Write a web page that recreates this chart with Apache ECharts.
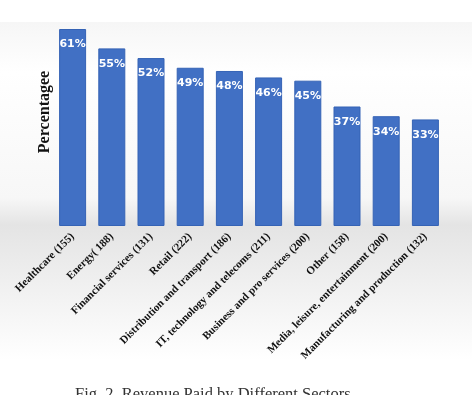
<!DOCTYPE html>
<html>
<head>
<meta charset="utf-8">
<script src="https://cdn.jsdelivr.net/npm/echarts@6/dist/echarts.min.js"></script>
<style>
  html, body { margin: 0; padding: 0; background: #fff; }
  #chart { width: 474px; height: 395px; }
</style>
</head>
<body>
<div id="chart"></div>
<script>
// sectors (sample size in brackets)
const sectors = [
  'Healthcare (155)', 'Energy( 188)', 'Financial services (131)', 'Retail (222)',
  'Distribution and transport (186)', 'IT, technology and telecoms (211)',
  'Business and pro services (200)', 'Other (158)',
  'Media, leisure, entertainment (200)', 'Manufacturing and production (132)'
]
const percentPaid = [61, 55, 52, 49, 48, 46, 45, 37, 34, 33]
const yTitle = 'Percentagee'
const caption = 'Fig. 2. Revenue Paid by Different Sectors'

const chart = echarts.init(document.getElementById('chart'))

chart.setOption({
  animation: false,
  graphic: [
    {
      // gray panel behind the plot
      type: 'rect',
      z: -10,
      shape: { x: 0, y: 22, width: 472, height: 338 },
      style: {
        fill: new echarts.graphic.LinearGradient(0, 0, 0, 1, [
          { offset: 0, color: '#f6f6f6' },
          { offset: 0.15, color: '#ffffff' },
          { offset: 0.52, color: '#f7f7f7' },
          { offset: 0.6, color: '#e4e4e4' },
          { offset: 0.72, color: '#ececec' },
          { offset: 1, color: '#ffffff' }
        ])
      }
    },
    {
      type: 'text',
      x: 45,
      y: 112,
      rotation: Math.PI / 2,
      style: {
        text: yTitle,
        font: 'bold 16px "Liberation Serif"',
        fill: '#111',
        align: 'center',
        verticalAlign: 'middle'
      }
    },
    {
      type: 'text',
      left: 75,
      top: 386,
      style: {
        text: caption,
        font: '16.5px "Liberation Serif"',
        fill: '#333'
      }
    }
  ],
  grid: { left: 53, right: 29, top: 29, bottom: 169 },
  xAxis: {
    type: 'category',
    data: sectors,
    axisLine: { show: false },
    axisTick: { show: false },
    axisLabel: {
      interval: 0,
      rotate: 45,
      margin: 9,
      fontFamily: 'Liberation Serif',
      fontWeight: 'bold',
      fontSize: 11,
      color: '#111'
    }
  },
  yAxis: {
    type: 'value',
    min: 0,
    max: 61,
    axisLine: { show: false },
    axisTick: { show: false },
    axisLabel: { show: false },
    splitLine: { show: false }
  },
  series: [
    {
      type: 'bar',
      data: percentPaid,
      barWidth: 27,
      itemStyle: {
        color: '#4170c4',
        borderColor: '#3563b5',
        borderWidth: 1
      },
      label: {
        show: true,
        position: 'insideTop',
        distance: 10,
        formatter: '{c}%',
        color: '#fff',
        fontFamily: 'DejaVu Sans',
        fontWeight: 'bold',
        fontSize: 11
      }
    }
  ]
})
</script>
</body>
</html>
